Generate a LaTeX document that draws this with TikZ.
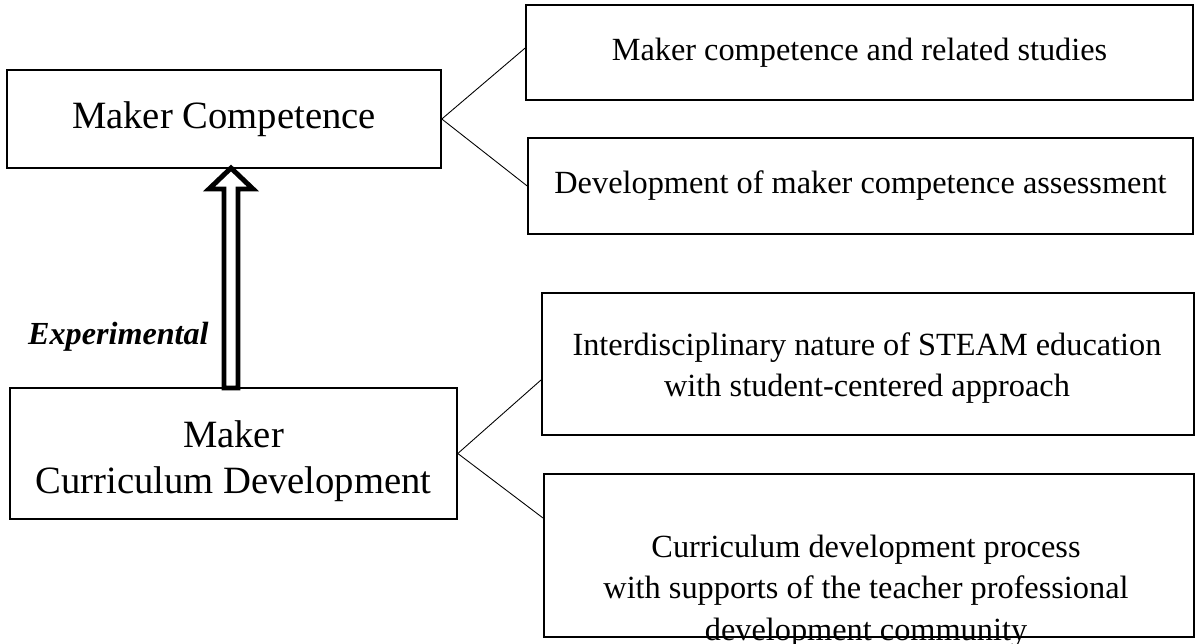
\documentclass[tikz,border=0pt]{standalone}
\usepackage{fontspec}
\setmainfont{Liberation Serif}
\begin{document}
\begin{tikzpicture}[x=0.02cm,y=-0.02cm,
 bx/.style={draw,line width=0.9pt,align=center,inner sep=0pt},
 big/.style={font=\fontsize{22}{26}\selectfont},
 sm/.style={font=\fontsize{18.4}{23.5}\selectfont},
 ln/.style={line width=0.5pt}]
\useasboundingbox (0,0) rectangle (1200,644);
\node[bx,big,minimum width=434*0.02cm,minimum height=98*0.02cm] (mc) at (224,119) {Maker Competence};
\node[bx,big,minimum width=447*0.02cm,minimum height=131*0.02cm] (cd) at (233.5,453.5) {};
\node[big,align=center] (cdt) at (233.5,461) {Maker\\Curriculum Development};
\node[bx,sm,minimum width=667*0.02cm,minimum height=95*0.02cm] (r1) at (859.5,52.5) {Maker competence and related studies};
\node[bx,sm,minimum width=665*0.02cm,minimum height=96*0.02cm] (r2) at (860.5,186) {Development of maker competence assessment};
\node[bx,sm,minimum width=652*0.02cm,minimum height=142*0.02cm,anchor=north west] (r3) at (541,292) {};
\node[sm,align=center] (t3) at (867,368) {Interdisciplinary nature of STEAM education\\with student-centered approach};
\node[bx,sm,minimum width=650*0.02cm,minimum height=163*0.02cm,anchor=north west] (r4) at (543,473) {};
\node[sm,align=center] (t4) at (866,591) {Curriculum development process\\with supports of the teacher professional\\development community};
\draw[ln] (mc.east) -- (r1.west |- 0,48);
\draw[ln] (mc.east) -- (r2.west);
\draw[ln] (cd.east) -- (r3.west |- 0,380);
\draw[ln] (cd.east) -- (r4.west |- 0,518);
\draw[line width=2.8pt,line join=miter,fill=white] (224,388) -- (224,189) -- (209,189) -- (231,168) -- (253,189) -- (238,189) -- (238,388) -- cycle;
\node[font=\fontsize{18.3}{22}\selectfont\bfseries\itshape,anchor=base west] (ex) at (22,345) {Experimental};
\end{tikzpicture}
\end{document}
